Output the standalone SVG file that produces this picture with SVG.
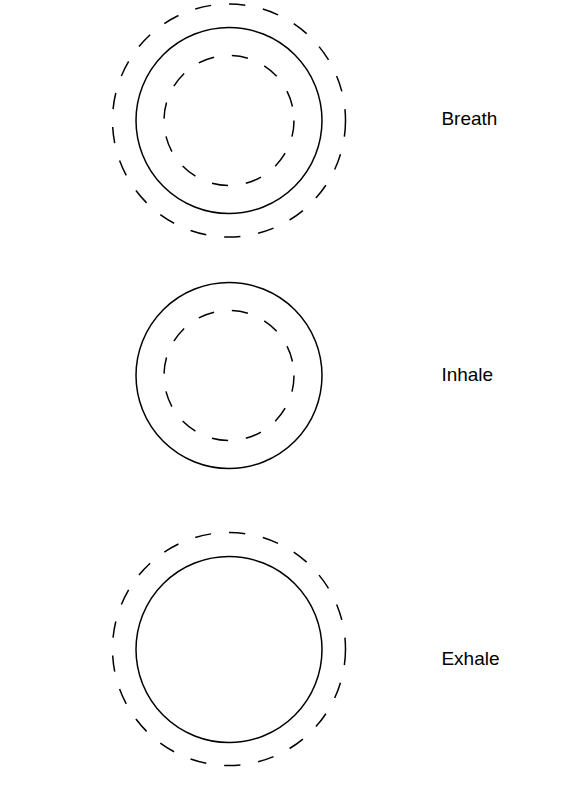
<svg xmlns="http://www.w3.org/2000/svg" width="586" height="793" viewBox="0 0 586 793">
<style>
.solid{fill:none;stroke:#000;stroke-width:1.5}
.dash{fill:none;stroke:#000;stroke-width:1.5;stroke-dasharray:16.3 18}
.lbl{font-family:"Liberation Sans",Arial,Helvetica,sans-serif;font-size:19px;fill:#000}
</style>
<rect width="586" height="793" fill="#fff"/>
<g id="breath">
<circle class="dash" cx="229" cy="120.5" r="116.5"/>
<circle class="solid" cx="229" cy="120.5" r="93"/>
<circle class="dash" cx="229" cy="120.5" r="65"/>
<text class="lbl" x="441.4" y="124.7">Breath</text>
</g>
<g id="inhale">
<circle class="solid" cx="229" cy="375.5" r="93"/>
<circle class="dash" cx="229" cy="375.5" r="65"/>
<text class="lbl" x="441.4" y="380.7">Inhale</text>
</g>
<g id="exhale">
<circle class="dash" cx="229" cy="649" r="116.5"/>
<circle class="solid" cx="229" cy="649.5" r="93"/>
<text class="lbl" x="441.4" y="664.7">Exhale</text>
</g>
<g id="connectors"></g>
</svg>
